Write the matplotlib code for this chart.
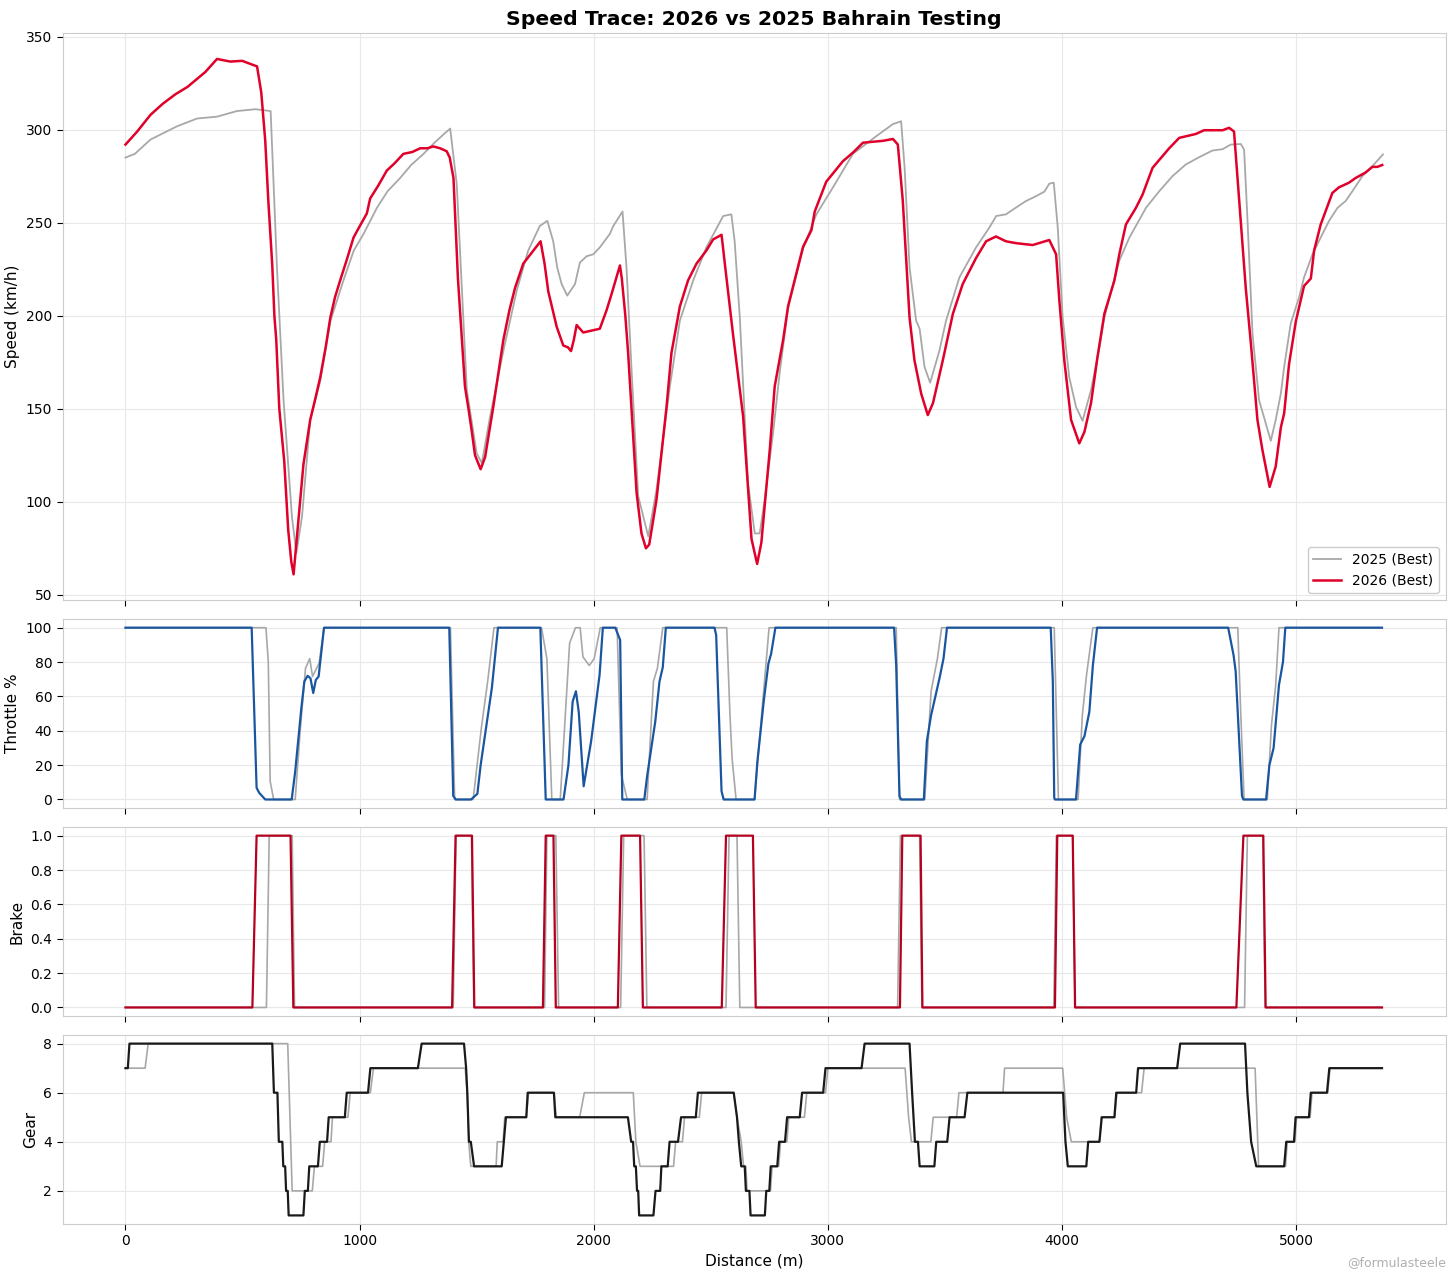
import numpy as np
import matplotlib
matplotlib.use("Agg")
import matplotlib.pyplot as plt

# speed traces, (distance m, km/h)
speed_2026 = [
    (0, 292), (50, 299), (107, 308), (160, 314), (213, 319), (265, 323), (341, 331),
    (391, 338), (448, 336.6), (498, 337), (562, 334), (580, 320), (597, 294), (610, 262),
    (627, 227), (636, 200), (644, 187), (657, 150), (678, 122), (695, 85), (708, 68),
    (718, 61), (735, 85), (760, 120), (789, 144), (810, 155), (832, 167), (855, 183),
    (875, 199), (895, 210), (917, 219), (945, 230), (974, 242), (1000, 248), (1031, 255),
    (1045, 263), (1080, 270), (1116, 278), (1150, 282), (1187, 287), (1225, 288),
    (1259, 290), (1290, 290), (1314, 291), (1344, 290), (1372, 288.4), (1385, 285),
    (1401, 274), (1420, 220), (1450, 162), (1465, 150), (1479, 138), (1493, 125),
    (1517, 117.5), (1536, 124), (1571, 151), (1614, 187), (1640, 203), (1664, 215),
    (1699, 228), (1742, 235), (1773, 240), (1790, 228), (1806, 213), (1842, 194),
    (1870, 184), (1890, 183), (1903, 181), (1915, 187), (1927, 195), (1955, 191),
    (2026, 193), (2055, 203), (2077, 212), (2112, 227), (2120, 220), (2135, 200),
    (2147, 180), (2183, 105), (2204, 83), (2223, 75), (2237, 77), (2268, 101), (2311, 151),
    (2332, 180), (2368, 205), (2403, 219), (2439, 228), (2481, 235), (2510, 241),
    (2546, 243.5), (2560, 228), (2595, 190), (2638, 146), (2674, 80), (2698, 66.6),
    (2716, 78), (2752, 128), (2773, 162), (2809, 187), (2830, 205), (2858, 219),
    (2894, 237), (2930, 246), (2944, 256), (2993, 272), (3064, 283), (3110, 288),
    (3150, 293), (3235, 294), (3278, 295), (3299, 292), (3320, 262), (3349, 199),
    (3370, 176), (3399, 158), (3427, 146.6), (3449, 153), (3491, 176), (3534, 201),
    (3576, 217), (3633, 231), (3676, 240), (3718, 242.6), (3761, 240), (3804, 239),
    (3875, 238), (3946, 240.7), (3975, 233), (3989, 208), (4010, 176), (4039, 144),
    (4074, 131.4), (4096, 137.6), (4124, 153), (4152, 178), (4181, 201), (4224, 219),
    (4245, 233), (4273, 249), (4316, 258), (4344, 265), (4387, 279.5), (4458, 290),
    (4501, 295.6), (4572, 297.7), (4607, 299.7), (4686, 299.7), (4714, 301), (4735, 299),
    (4757, 262), (4785, 215), (4807, 185), (4835, 144), (4856, 128), (4887, 108),
    (4913, 119), (4935, 140), (4949, 147.5), (4970, 174), (4999, 197), (5034, 216),
    (5063, 220), (5077, 235), (5105, 249), (5155, 266), (5183, 269), (5226, 271.5),
    (5254, 274), (5297, 277), (5326, 280), (5347, 280), (5368, 281),
]
speed_2025 = [
    (0, 285), (40, 287), (107, 294.7), (160, 298), (220, 301.8), (306, 306), (391, 307),
    (476, 310), (555, 311), (620, 310), (647, 226), (675, 155), (711, 92), (730, 72.5),
    (754, 92), (789, 144), (832, 165), (875, 197), (931, 219), (975, 235), (1017, 244),
    (1074, 258), (1120, 267), (1173, 274), (1220, 281), (1273, 287), (1320, 293),
    (1358, 297.4), (1387, 300.6), (1415, 270.6), (1458, 160), (1500, 126), (1522, 120.8),
    (1557, 145.6), (1614, 181), (1671, 213.5), (1720, 235), (1770, 248.3), (1802, 251),
    (1827, 240), (1844, 226), (1863, 217), (1887, 210.8), (1920, 217), (1941, 228.6),
    (1970, 232), (1998, 233), (2026, 236.7), (2069, 244), (2084, 248.3), (2123, 256),
    (2140, 226), (2161, 172.5), (2190, 103), (2233, 81.4), (2268, 106.4), (2325, 161.7),
    (2368, 197.4), (2425, 219), (2481, 236.7), (2553, 253.6), (2588, 254.5), (2602, 240),
    (2624, 199), (2659, 110), (2688, 83), (2709, 83), (2730, 101), (2766, 137),
    (2794, 169), (2830, 204), (2858, 218), (2894, 236), (2951, 254.5), (3022, 269),
    (3107, 287), (3207, 296.5), (3278, 303), (3313, 304.5), (3328, 279.5), (3349, 226),
    (3377, 197.4), (3392, 193), (3413, 172.5), (3437, 164), (3477, 181.4), (3505, 197.4),
    (3562, 220.6), (3633, 236.7), (3690, 247.4), (3719, 253.6), (3761, 254.5),
    (3790, 257), (3847, 261.7), (3890, 264.3), (3925, 266.7), (3946, 271), (3965, 271.5),
    (3982, 247.4), (4003, 199), (4031, 167), (4060, 151), (4088, 143.5), (4124, 160),
    (4160, 183), (4181, 199), (4245, 229.6), (4288, 242), (4359, 258), (4416, 267),
    (4472, 275), (4529, 281.3), (4586, 285.2), (4643, 288.8), (4686, 289.5), (4721, 292),
    (4764, 292.3), (4778, 289.3), (4792, 252.7), (4814, 190), (4842, 154.6), (4871, 142),
    (4892, 132.8), (4913, 144), (4935, 158.2), (4949, 172.5), (4977, 195.7), (5013, 210),
    (5034, 220.6), (5070, 233), (5105, 242), (5141, 251), (5177, 258), (5212, 261.7),
    (5241, 267), (5283, 275), (5326, 280.4), (5371, 286.7),
]

# throttle %, (distance m, %)
throttle_2026 = [
    (0, 100), (539, 100), (560, 6.8), (571, 3.9), (597, 0), (710, 0), (725, 16.4),
    (751, 53), (764, 68.7), (778, 72), (790, 70.6), (802, 62), (813, 69.6), (825, 71.6),
    (848, 100), (1383, 100), (1400, 2), (1411, 0), (1476, 0), (1503, 3.3), (1517, 20),
    (1565, 65), (1591, 100), (1772, 100), (1795, 0), (1871, 0), (1892, 20), (1910, 57),
    (1924, 63), (1936, 51), (1957, 7.7), (1989, 34), (2025, 72.5), (2039, 100),
    (2092, 100), (2113, 92.8), (2122, 0), (2216, 0), (2228, 13.5), (2263, 45.5),
    (2281, 68.7), (2295, 77), (2308, 100), (2516, 100), (2523, 95.7), (2546, 4.8),
    (2555, 0), (2687, 0), (2699, 22), (2726, 57), (2746, 79), (2758, 85), (2776, 100),
    (3283, 100), (3292, 78), (3306, 2), (3313, 0), (3410, 0), (3423, 34), (3441, 49),
    (3477, 70.6), (3494, 82), (3509, 100), (3952, 100), (3961, 68.7), (3967, 1),
    (3970, 0), (4060, 0), (4078, 32), (4096, 36.8), (4117, 51), (4132, 78), (4150, 100),
    (4710, 100), (4733, 84), (4742, 74.5), (4769, 2), (4775, 0), (4872, 0), (4886, 20),
    (4904, 30), (4927, 66.7), (4944, 80), (4954, 100), (5367, 100),
]
throttle_2025 = [
    (0, 100), (600, 100), (610, 80), (618, 10.6), (633, 0), (725, 0), (746, 39.7),
    (769, 76.4), (787, 82), (799, 71.6), (827, 79.3), (848, 100), (1388, 100), (1406, 0),
    (1485, 0), (1520, 41.6), (1547, 68.7), (1574, 100), (1777, 100), (1800, 82),
    (1821, 0), (1857, 0), (1883, 59), (1897, 91), (1922, 100), (1942, 100), (1954, 83),
    (1981, 78), (2002, 82), (2028, 100), (2100, 100), (2118, 14.5), (2143, 0), (2228, 0),
    (2255, 68.7), (2272, 76.4), (2295, 100), (2568, 100), (2582, 49), (2591, 24),
    (2608, 0), (2687, 0), (2722, 57), (2749, 100), (3292, 100), (3306, 0), (3414, 0),
    (3441, 63), (3468, 82), (3486, 100), (3967, 100), (3985, 0), (4069, 0), (4087, 49),
    (4105, 72.5), (4132, 100), (4751, 100), (4764, 49), (4778, 0), (4877, 0),
    (4895, 43.5), (4913, 66.7), (4927, 100), (5367, 100),
]

# brake on/off, (distance m, 0..1)
brake_2026 = [
    (0, 0), (542, 0), (560, 1), (705, 1), (717, 0), (1395, 0), (1410, 1), (1480, 1),
    (1490, 0), (1783, 0), (1795, 1), (1828, 1), (1838, 0), (2103, 0), (2118, 1),
    (2198, 1), (2210, 0), (2547, 0), (2565, 1), (2680, 1), (2692, 0), (3308, 0),
    (3318, 1), (3396, 1), (3404, 0), (3970, 0), (3980, 1), (4046, 1), (4056, 0),
    (4745, 0), (4775, 1), (4860, 1), (4870, 0), (5367, 0),
]
brake_2025 = [
    (0, 0), (602, 0), (614, 1), (712, 1), (722, 0), (1400, 0), (1412, 1), (1478, 1),
    (1488, 0), (1790, 0), (1800, 1), (1838, 1), (1850, 0), (2115, 0), (2128, 1),
    (2215, 1), (2227, 0), (2565, 0), (2578, 1), (2612, 1), (2624, 0), (3298, 0),
    (3310, 1), (3392, 1), (3402, 0), (3965, 0), (3976, 1), (4046, 1), (4056, 0),
    (4780, 0), (4792, 1), (4858, 1), (4868, 0), (5367, 0),
]

# gear, (distance m, gear)
gear_2026 = [
    (0, 7), (10, 7), (17, 8), (627, 8), (634, 6), (649, 6), (655, 4), (670, 4), (674, 3),
    (682, 3), (686, 2), (693, 2), (697, 1), (760, 1), (766, 2), (779, 2), (785, 3),
    (822, 3), (830, 4), (861, 4), (868, 5), (937, 5), (945, 6), (1036, 6), (1046, 7),
    (1249, 7), (1265, 8), (1446, 8), (1455, 7), (1460, 6), (1467, 4), (1475, 4),
    (1489, 3), (1607, 3), (1625, 5), (1712, 5), (1718, 6), (1830, 6), (1836, 5),
    (2146, 5), (2160, 4), (2168, 4), (2173, 3), (2180, 3), (2185, 2), (2190, 2),
    (2194, 1), (2255, 1), (2264, 2), (2284, 2), (2289, 3), (2316, 3), (2324, 4),
    (2360, 4), (2373, 5), (2436, 5), (2445, 6), (2598, 6), (2612, 5), (2620, 4),
    (2630, 3), (2645, 3), (2650, 2), (2665, 2), (2670, 1), (2731, 1), (2737, 2),
    (2750, 2), (2756, 3), (2784, 3), (2792, 4), (2817, 4), (2826, 5), (2880, 5),
    (2890, 6), (2980, 6), (2990, 7), (3144, 7), (3157, 8), (3349, 8), (3360, 6),
    (3372, 4), (3385, 4), (3392, 3), (3455, 3), (3463, 4), (3510, 4), (3520, 5),
    (3584, 5), (3596, 6), (4005, 6), (4015, 4), (4025, 3), (4104, 3), (4112, 4),
    (4160, 4), (4170, 5), (4224, 5), (4232, 6), (4317, 6), (4325, 7), (4492, 7),
    (4505, 8), (4782, 8), (4792, 6), (4800, 5), (4808, 4), (4830, 3), (4949, 3),
    (4958, 4), (4991, 4), (4998, 5), (5055, 5), (5063, 6), (5132, 6), (5142, 7),
    (5367, 7),
]
gear_2025 = [
    (0, 7), (84, 7), (97, 8), (693, 8), (712, 2), (798, 2), (807, 3), (842, 3), (851, 4),
    (878, 4), (884, 5), (950, 5), (960, 6), (1046, 6), (1059, 7), (1451, 7), (1460, 6),
    (1466, 4), (1475, 3), (1583, 3), (1588, 4), (1613, 4), (1620, 5), (1712, 5),
    (1722, 6), (1830, 6), (1840, 5), (1940, 5), (1960, 6), (2169, 6), (2180, 4),
    (2198, 3), (2341, 3), (2350, 4), (2379, 4), (2388, 5), (2451, 5), (2461, 6),
    (2598, 6), (2612, 5), (2630, 4), (2640, 3), (2650, 3), (2655, 2), (2755, 2),
    (2762, 3), (2790, 3), (2798, 4), (2825, 4), (2833, 5), (2900, 5), (2910, 6),
    (2990, 6), (3000, 7), (3330, 7), (3345, 5), (3357, 4), (3440, 4), (3450, 5),
    (3550, 5), (3560, 6), (3748, 6), (3755, 7), (4003, 7), (4020, 5), (4040, 4),
    (4160, 4), (4168, 5), (4225, 5), (4235, 6), (4340, 6), (4351, 7), (4825, 7),
    (4840, 3), (4955, 3), (4962, 4), (4995, 4), (5002, 5), (5060, 5), (5068, 6),
    (5135, 6), (5145, 7), (5367, 7),
]

GREY = "#a8a8a8"
RED = "#e0002a"
BLUE = "#1a56a0"
BRAKE_RED = "#b5001f"
GEAR_BLACK = "#1a1a1a"


def xy(pairs):
    arr = np.array(pairs, dtype=float)
    return arr[:, 0], arr[:, 1]


fig, axes = plt.subplots(4, 1, figsize=(14.56, 12.77), dpi=100, sharex=True,
                         gridspec_kw={"height_ratios": [3, 1, 1, 1]})
fig.subplots_adjust(left=0.043, right=0.993, top=0.974, bottom=0.0415, hspace=0.067)
ax_s, ax_t, ax_b, ax_g = axes

ax_s.plot(*xy(speed_2025), color=GREY, lw=1.3, label="2025 (Best)")
ax_s.plot(*xy(speed_2026), color=RED, lw=1.8, label="2026 (Best)")
ax_s.set_ylabel("Speed (km/h)", fontsize=11)
ax_s.set_yticks(range(50, 351, 50))
ax_s.legend(loc="lower right", fontsize=10, framealpha=1)
ax_s.set_title("Speed Trace: 2026 vs 2025 Bahrain Testing", fontsize=14.7,
               fontweight="bold", pad=6)

ax_t.plot(*xy(throttle_2025), color=GREY, lw=1.2)
ax_t.plot(*xy(throttle_2026), color=BLUE, lw=1.6)
ax_t.set_ylabel("Throttle %", fontsize=11)
ax_t.set_yticks(range(0, 101, 20))

ax_b.plot(*xy(brake_2025), color=GREY, lw=1.2)
ax_b.plot(*xy(brake_2026), color=BRAKE_RED, lw=1.6)
ax_b.set_ylabel("Brake", fontsize=11)
ax_b.set_yticks([0.0, 0.2, 0.4, 0.6, 0.8, 1.0])

ax_g.plot(*xy(gear_2025), color=GREY, lw=1.2)
ax_g.plot(*xy(gear_2026), color=GEAR_BLACK, lw=1.6)
ax_g.set_ylabel("Gear", fontsize=11)
ax_g.set_yticks([2, 4, 6, 8])
ax_g.set_xlabel("Distance (m)", fontsize=11)
ax_g.set_xticks(range(0, 5001, 1000))

for ax in axes:
    ax.grid(True, color="#e8e8e8", lw=0.8)
    ax.set_axisbelow(True)
    for sp in ax.spines.values():
        sp.set_color("#cccccc")
    ax.tick_params(labelsize=10, length=4)

fig.text(0.993, 0.006, "@formulasteele", ha="right", va="bottom",
         fontsize=9, color="#b0b0b0")

plt.savefig("out.png", dpi=100)
